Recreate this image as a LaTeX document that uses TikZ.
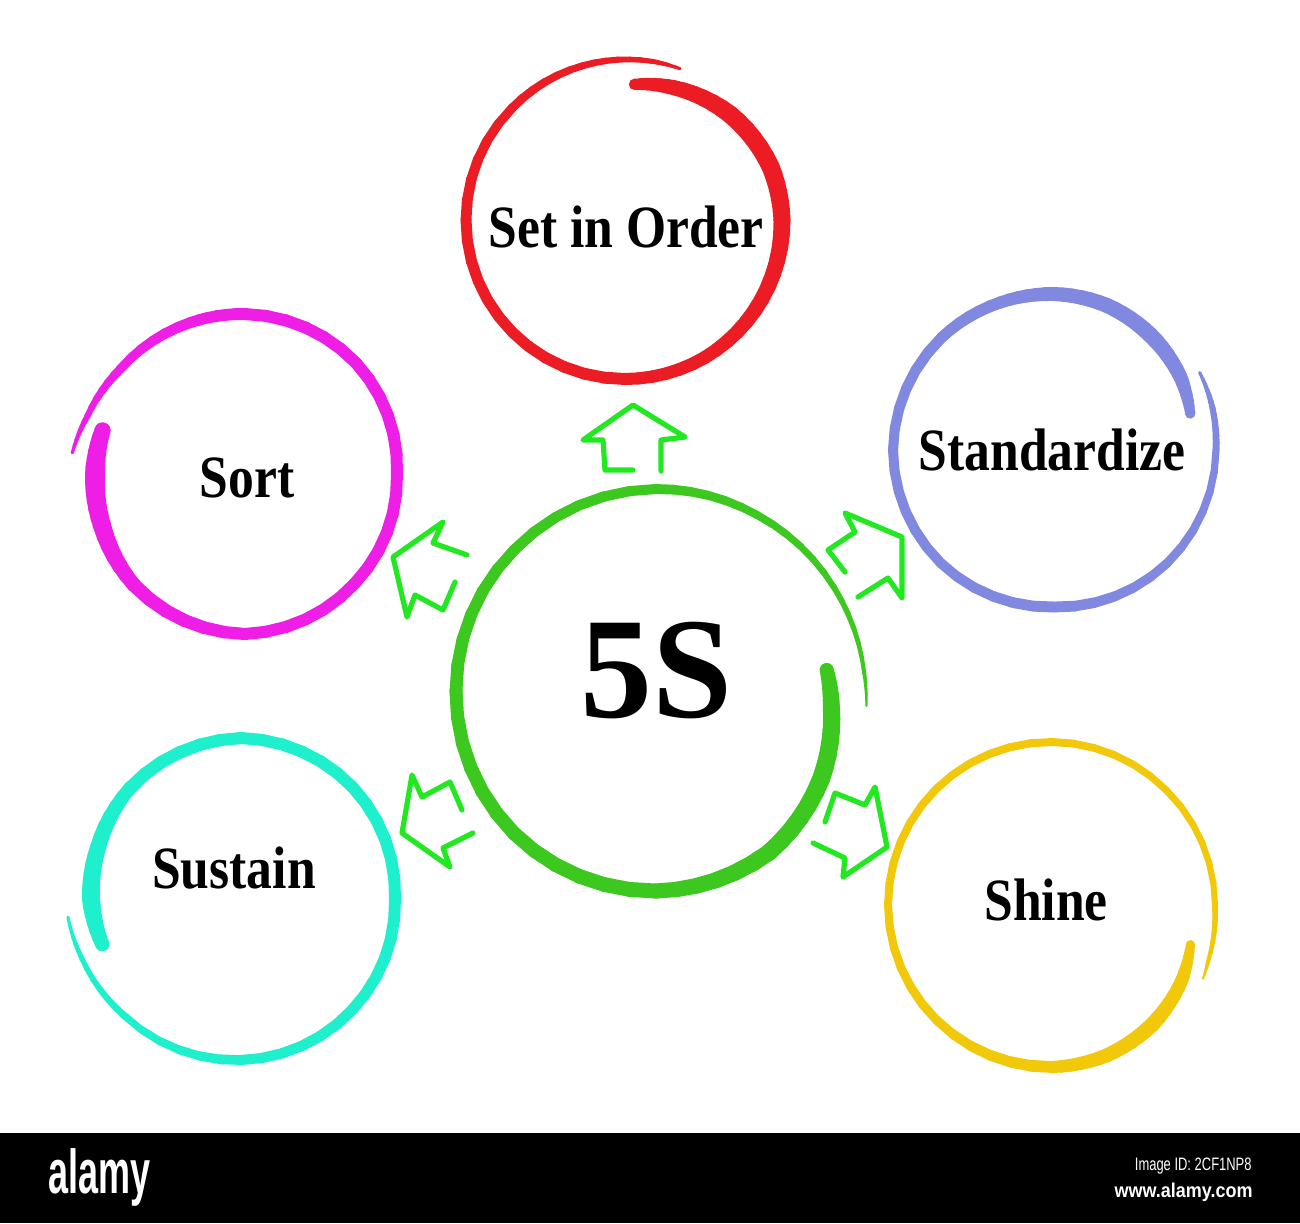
\documentclass[tikz,border=0pt]{standalone}
\usepackage{fontspec}
\setmainfont{Liberation Serif}
\newfontfamily\lblfont[FakeStretch=0.86]{Liberation Serif}
\newfontfamily\bigfont{Liberation Serif}
\newfontfamily\logofont[FakeStretch=0.58]{Liberation Sans}
\newfontfamily\idfont[FakeStretch=0.72]{Liberation Sans}
\newfontfamily\urlfont[FakeStretch=0.9]{Liberation Sans}
\definecolor{cred}{HTML}{EC1C24}
\definecolor{cmag}{HTML}{EE1EE6}
\definecolor{cblue}{HTML}{8088E0}
\definecolor{ccyan}{HTML}{1EF0CD}
\definecolor{cyel}{HTML}{F2C80A}
\definecolor{cgreen}{HTML}{3CC81E}
\definecolor{carrow}{HTML}{22E822}
\tikzset{
  lbl/.style={font=\lblfont\bfseries\fontsize{30}{34}\selectfont, anchor=base, inner sep=0pt},
  arrowline/.style={draw=carrow, line width=2.6pt, line join=round, line cap=round},
}
% brush stroke: color, cx, cy, list of angle/radius/width keypoints (pixel units)
\newcommand\brushstroke[4]{%
  \foreach \a/\r/\w [count=\i, remember=\a as \pa (initially 0), remember=\r as \pr (initially 0), remember=\w as \pw (initially 0)] in {#4} {%
    \ifnum\i>1
      \foreach \k in {1,...,6} {%
        \pgfmathsetmacro\ta{\pa+(\a-\pa)*(\k-1)/6}%
        \pgfmathsetmacro\tb{\pa+(\a-\pa)*\k/6}%
        \pgfmathsetmacro\ra{\pr+(\r-\pr)*(\k-1)/6}%
        \pgfmathsetmacro\rb{\pr+(\r-\pr)*\k/6}%
        \pgfmathsetmacro\ww{(\pw+(\w-\pw)*(\k-0.5)/6)*0.5}%
        \draw[#1, line width=\ww pt, line cap=round] ({#2+\ra*cos(\ta)},{#3-\ra*sin(\ta)}) -- ({#2+\rb*cos(\tb)},{#3-\rb*sin(\tb)});
      }%
    \fi
  }%
}
\begin{document}
\begin{tikzpicture}[x=0.5pt, y=-0.5pt]
\useasboundingbox (0,0) rectangle (1300,1223);
\fill[white] (0,0) rectangle (1300,1133);
\fill[black] (0,1133) rectangle (1300,1223);

% Set in Order (red)
\brushstroke{cred}{625}{220}{86/136/11, 70/141/15, 45/149/18, 20/155/18, 0/157/17, -30/158/15, -60/159/13, -90/159/12, -135/159/11, -180/159/11, -225/159/9, -255/160/7, -280/161/5, -290/161/3}
% Sort (magenta)
\brushstroke{cmag}{245}{474}{173/174/3, 160/168/6, 140/163/9, 110/161/11, 90/160/12, 45/157/12, 0/152/12, -45/155/12, -90/160/12, -135/157/14, -160/152/18, -180/150/20, -197/149/16}
% Standardize (blue)
\brushstroke{cblue}{1054}{450}{28/165/3, 15/164/6, 0/162/7, -45/160/9, -90/157/11, -135/160/10, -180/161/10, -225/159/11, -250/157/12, -270/156/14, -290/154/15, -310/150/16, -330/146/14, -345/141/10}
% Sustain (cyan)
\brushstroke{ccyan}{241}{899}{186/174/3, 200/170/5, 225/165/7, 270/161/10, 315/157/11, 360/154/12, 405/158/12, 450/161/12, 495/157/13, 520/152/16, 540/150/18, 558/146/14}
% Shine (yellow)
\brushstroke{cyel}{1052}{905}{-16/144/9, -30/150/13, -50/156/15, -70/160/14, -90/162/12, -135/163/9, -180/164/8, -225/164/8, -270/163/8, -315/162/7, -360/163/6, -380/166/4, -386/168/2}
% 5S (green)
\brushstroke{cgreen}{656}{691}{7/172/14, -5/176/17, -28/187/18, -55/197/17, -90/200/15, -135/201/14, -180/200/13, -225/200/11, -270/202/10, -300/203/8, -330/206/6, -355/209/4, -364/211/2}

% arrows
\draw[arrowline] (633,470) -- (605,470) -- (603,440) -- (583,440) -- (633,405) -- (685,437) -- (661,440) -- (661,471);
\draw[arrowline] (467,555) -- (433,543) -- (443,522) -- (393,557) -- (407,617) -- (415,595) -- (443,610) -- (455,582);
\draw[arrowline] (845,572) -- (828,550) -- (855,532) -- (845,513) -- (902,537) -- (902,598) -- (888,578) -- (858,597);
\draw[arrowline] (462,810) -- (450,782) -- (422,797) -- (412,775) -- (402,833) -- (450,867) -- (443,848) -- (473,833);
\draw[arrowline] (825,822) -- (835,793) -- (865,805) -- (875,787) -- (887,847) -- (843,877) -- (845,858) -- (813,843);

% labels
\node[lbl] (order) at (626,247) {Set in Order};
\node[lbl] (sort) at (247,497) {Sort};
\node[lbl] (std) at (1052,470) {Standardize};
\node[lbl] (sustain) at (234,888) {Sustain};
\node[lbl] (shine) at (1046,920) {Shine};
\node[anchor=base, inner sep=0pt, font=\bigfont\bfseries\fontsize{72}{80}\selectfont] (five) at (657,717) {5S};

% footer
\node[anchor=base west, inner sep=0pt, text=white, font=\logofont\bfseries\fontsize{31}{34}\selectfont] (logo) at (48,1193) {alamy};
\node[anchor=base east, inner sep=0pt, text=white, font=\idfont\fontsize{9}{10}\selectfont] (imgid) at (1252,1170) {Image ID: 2CF1NP8};
\node[anchor=base east, inner sep=0pt, text=white, font=\urlfont\bfseries\fontsize{10}{11}\selectfont] (url) at (1253,1197) {www.alamy.com};
\end{tikzpicture}
\end{document}
